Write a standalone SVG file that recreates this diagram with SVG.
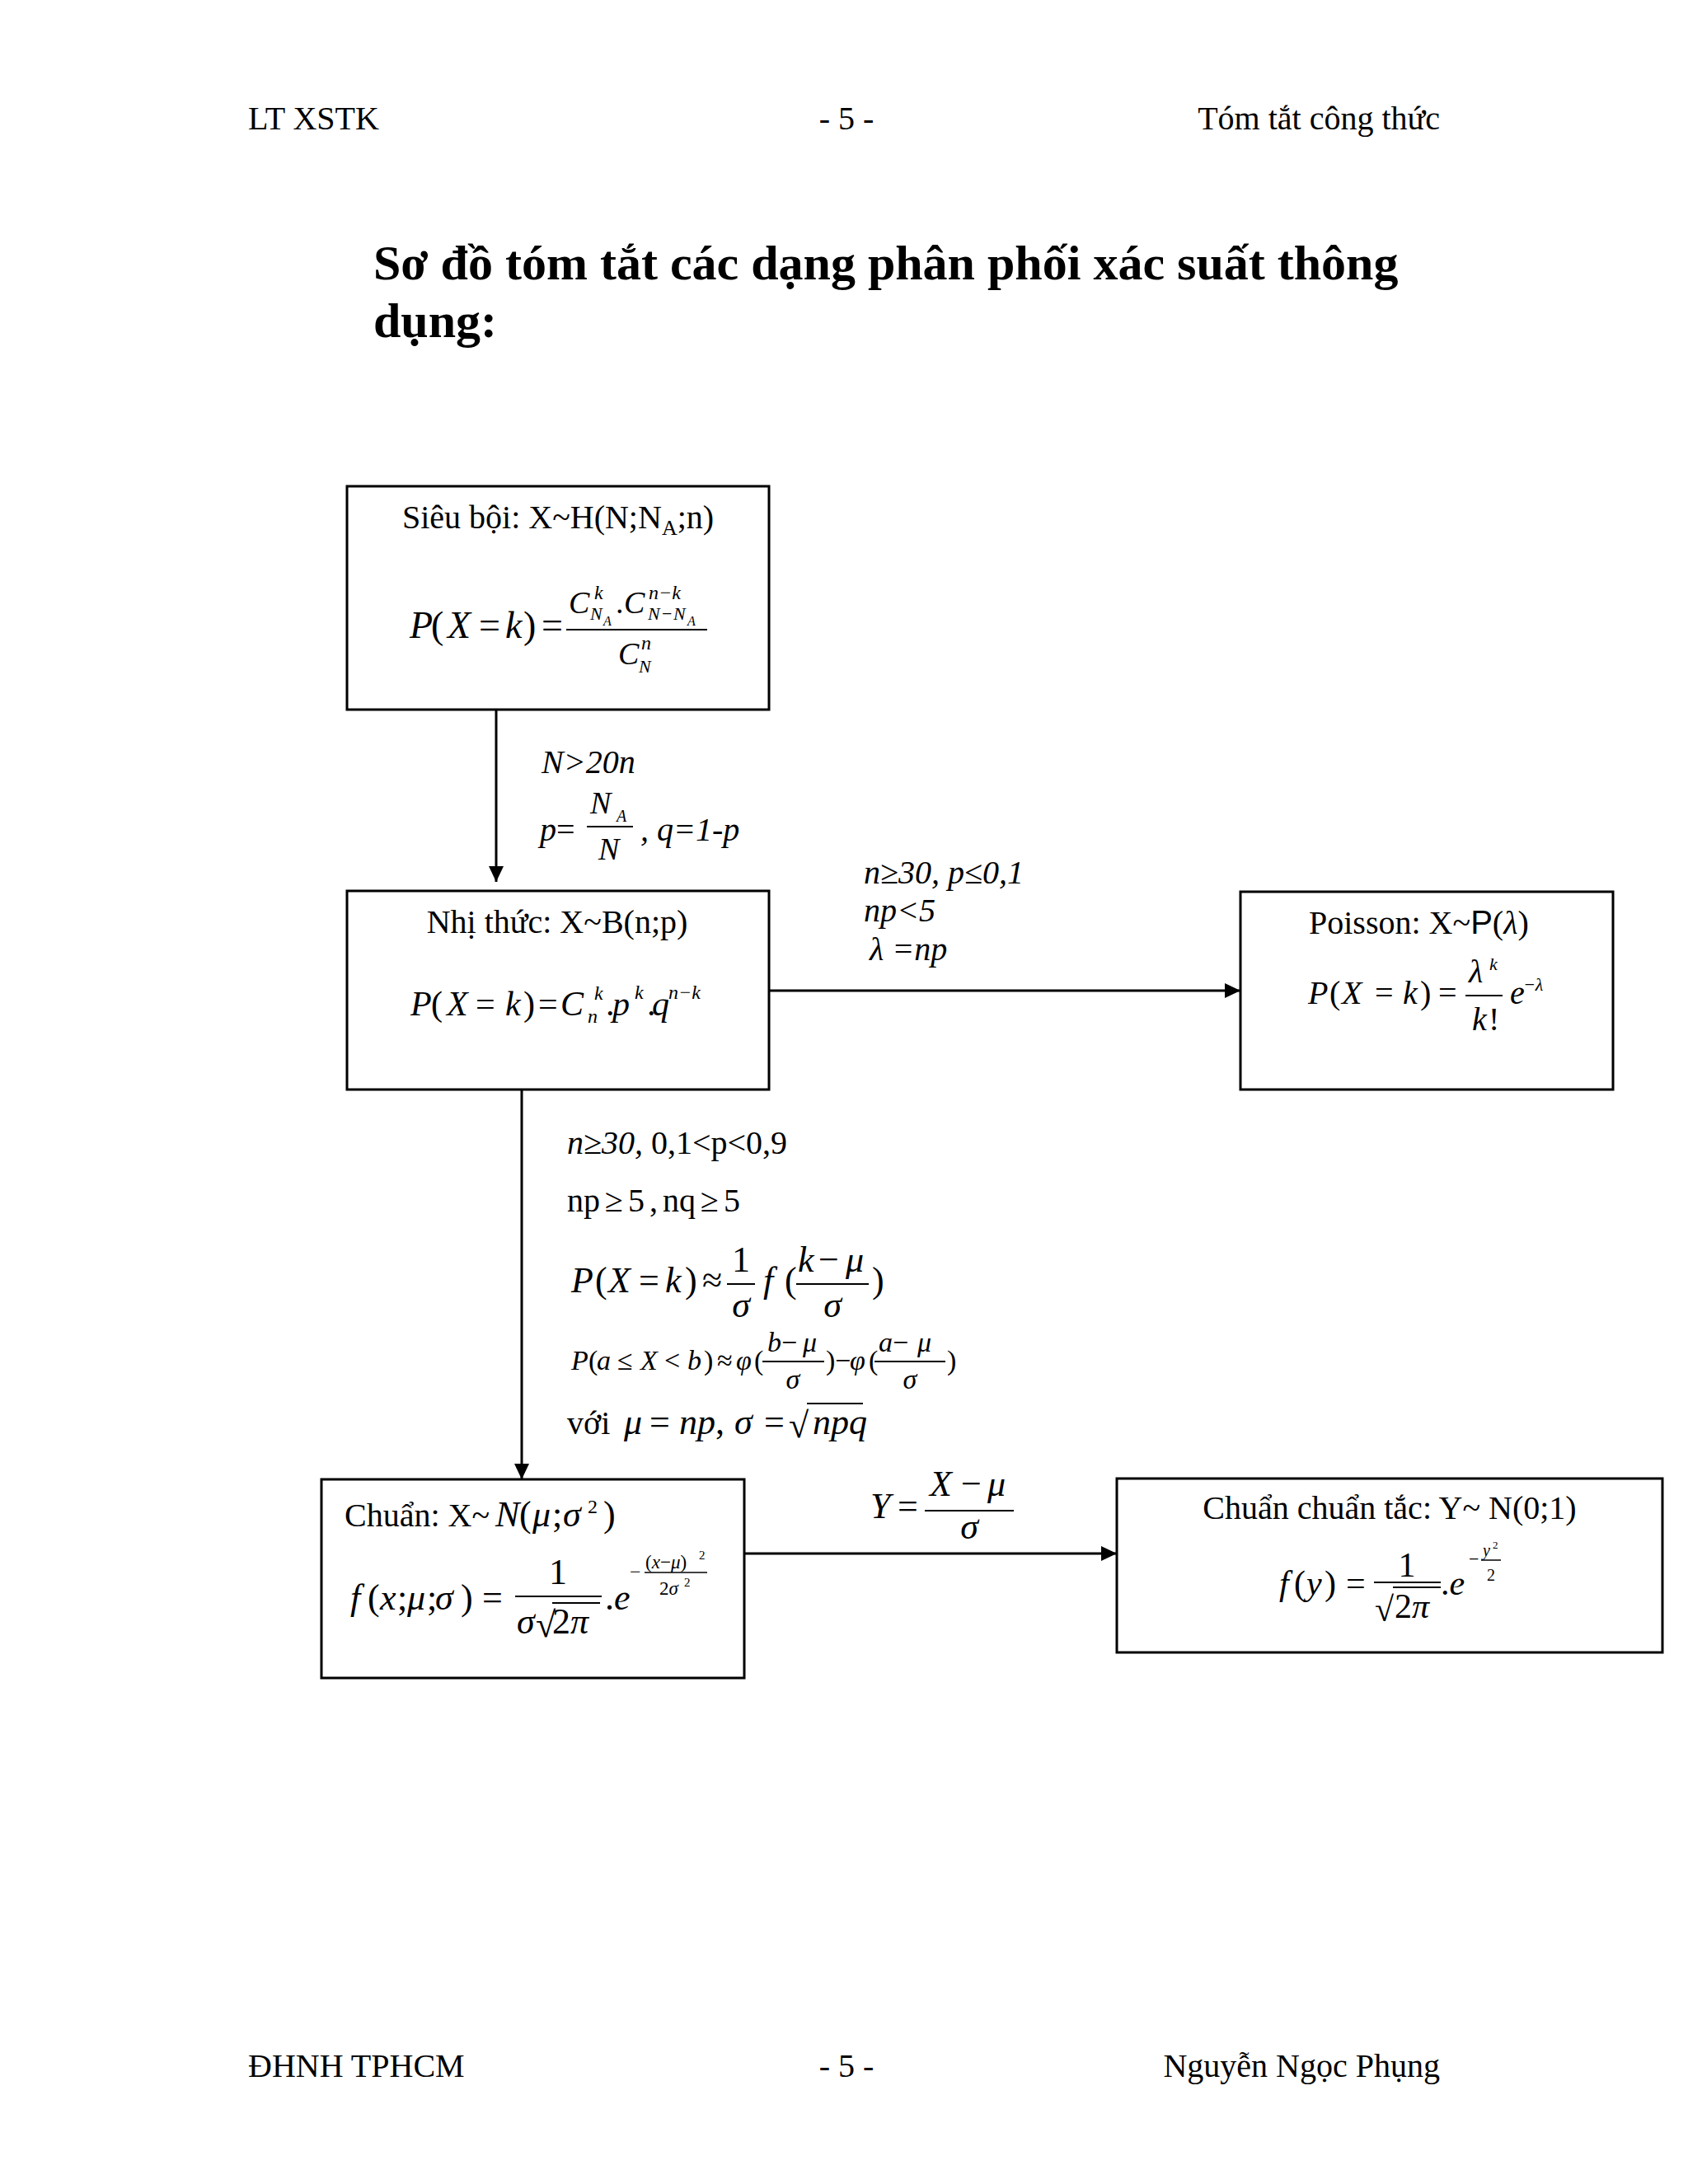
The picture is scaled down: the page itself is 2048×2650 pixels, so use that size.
<svg xmlns="http://www.w3.org/2000/svg" width="2048" height="2650" viewBox="0 0 2048 2650">
<defs>
<style>
text{font-family:"Liberation Serif","DejaVu Serif",serif;fill:#000}
.t{font-size:40px}
.ti{font-size:60px;font-weight:bold}
.i{font-style:italic}
.m{font-size:44px}
.s{font-size:24px}
.box{fill:#fff;stroke:#000;stroke-width:3}
.bar{stroke:#000;stroke-width:2}
.conn{stroke:#000;stroke-width:3;fill:none}
</style>
<marker id="ah" markerUnits="userSpaceOnUse" markerWidth="20" markerHeight="20" refX="19" refY="9" orient="auto">
<path d="M0,0 L19,9 L0,18 Z" fill="#000"/>
</marker>
</defs>
<rect width="2048" height="2650" fill="#fff"/>

<g id="header">
<text class="t" x="301" y="157">LT XSTK</text>
<text class="t" x="1027" y="157" text-anchor="middle">- 5 -</text>
<text class="t" x="1747" y="157" text-anchor="end">Tóm tắt công thức</text>
</g>
<g id="title">
<text class="ti" x="453" y="339">Sơ đồ tóm tắt các dạng phân phối xác suất thông</text>
<text class="ti" x="453" y="409">dụng:</text>
</g>

<g id="connectors">
<line class="conn" x1="602" y1="860" x2="602" y2="1070" marker-end="url(#ah)"/>
<line class="conn" x1="933" y1="1202" x2="1505" y2="1202" marker-end="url(#ah)"/>
<line class="conn" x1="633" y1="1322" x2="633" y2="1795" marker-end="url(#ah)"/>
<line class="conn" x1="903" y1="1885" x2="1355" y2="1885" marker-end="url(#ah)"/>
</g>

<g id="label-hyper-binom">
<text class="t i" x="657" y="938">N&gt;20n</text>
<text class="t i" x="655" y="1020">p<tspan font-style="normal">=</tspan></text>
<line class="bar" x1="712" y1="1003" x2="768" y2="1003"/>
<text class="i" font-size="38" x="716" y="987">N</text>
<text class="i" font-size="20" x="748" y="997">A</text>
<text class="i" font-size="38" x="726" y="1043">N</text>
<text class="t i" x="777" y="1020">, q=1-p</text>
</g>

<g id="label-binom-poisson">
<text class="t i" x="1048" y="1072">n≥30, p≤0,1</text>
<text class="t i" x="1048" y="1118">np&lt;5</text>
<text class="t i" x="1055" y="1165">λ =np</text>
</g>

<g id="label-binom-normal">
<text class="t" font-size="38" x="688" y="1400"><tspan font-style="italic">n≥30,</tspan> 0,1&lt;p&lt;0,9</text>
<text class="t" font-size="38" x="688" y="1470" word-spacing="-4">np ≥ 5 , nq ≥ 5</text>
<text class="m i" x="693" y="1568">P</text>
<text class="m" x="722" y="1568">(</text>
<text class="m i" x="738" y="1568">X</text>
<text class="m" x="775" y="1568">=</text>
<text class="m i" x="807" y="1568">k</text>
<text class="m" x="831" y="1568">)</text>
<text class="m" x="852" y="1568">≈</text>
<line class="bar" x1="882" y1="1558" x2="916" y2="1558"/>
<text class="m" x="899" y="1543" text-anchor="middle">1</text>
<text class="m i" x="899" y="1598" text-anchor="middle">σ</text>
<text class="m i" x="926" y="1568">f</text>
<text class="m" x="952" y="1568">(</text>
<line class="bar" x1="966" y1="1558" x2="1054" y2="1558"/>
<text class="m i" x="968" y="1543">k</text>
<text class="m" x="993" y="1543">−</text>
<text class="m i" x="1026" y="1543">μ</text>
<text class="m i" x="1010" y="1598" text-anchor="middle">σ</text>
<text class="m" x="1058" y="1568">)</text>
<g font-size="34">
<text class="i" x="693" y="1662">P</text>
<text x="714" y="1662">(</text>
<text class="i" x="724" y="1662">a</text>
<text x="749" y="1662">≤</text>
<text class="i" x="777" y="1662">X</text>
<text x="806" y="1662">&lt;</text>
<text class="i" x="834" y="1662">b</text>
<text x="854" y="1662">)</text>
<text x="870" y="1662">≈</text>
<text class="i" x="893" y="1662">φ</text>
<text x="915" y="1662">(</text>
<line class="bar" x1="925" y1="1652" x2="1000" y2="1652"/>
<text class="i" x="931" y="1640">b</text>
<text x="948" y="1640">−</text>
<text class="i" x="974" y="1640">μ</text>
<text class="i" x="962" y="1685" text-anchor="middle">σ</text>
<text x="1002" y="1662">)</text>
<text x="1013" y="1662">−</text>
<text class="i" x="1031" y="1662">φ</text>
<text x="1054" y="1662">(</text>
<line class="bar" x1="1061" y1="1652" x2="1147" y2="1652"/>
<text class="i" x="1066" y="1640">a</text>
<text x="1083" y="1640">−</text>
<text class="i" x="1113" y="1640">μ</text>
<text class="i" x="1104" y="1685" text-anchor="middle">σ</text>
<text x="1149" y="1662">)</text>
</g>
<text class="t" font-size="38" x="688" y="1740">với</text>
<text class="m i" x="757" y="1740">μ</text>
<text class="m" x="788" y="1740">=</text>
<text class="m i" x="824" y="1740">np</text>
<text class="m" x="868" y="1740">,</text>
<text class="m i" x="891" y="1740">σ</text>
<text class="m" x="927" y="1740">=</text>
<text class="m" x="957" y="1744">√</text>
<line class="bar" x1="979" y1="1703" x2="1047" y2="1703"/>
<text class="m i" x="986" y="1740">npq</text>
</g>

<g id="label-normal-standard">
<text class="m i" x="1056" y="1842">Y</text>
<text class="m" x="1089" y="1842">=</text>
<line class="bar" x1="1122" y1="1833" x2="1230" y2="1833"/>
<text class="m i" x="1128" y="1815">X</text>
<text class="m" x="1166" y="1815">−</text>
<text class="m i" x="1198" y="1815">μ</text>
<text class="m i" x="1176" y="1867" text-anchor="middle">σ</text>
</g>

<g id="node-sieu-boi">
<rect class="box" x="421" y="590" width="512" height="271"/>
<text class="t" x="677" y="641" text-anchor="middle">Siêu bội: X~H(N;N<tspan font-size="26" dy="8">A</tspan><tspan dy="-8">;n)</tspan></text>
<text font-size="46" class="i" x="497" y="774">P</text>
<text font-size="46" x="523" y="774">(</text>
<text font-size="46" class="i" x="543" y="774">X</text>
<text font-size="46" x="581" y="774">=</text>
<text font-size="46" class="i" x="613" y="774">k</text>
<text font-size="46" x="635" y="774">)</text>
<text font-size="46" x="657" y="774">=</text>
<line class="bar" x1="687" y1="764" x2="858" y2="764"/>
<text font-size="38" class="i" x="690" y="744">C</text>
<text class="s i" x="721" y="727">k</text>
<text class="i" font-size="22" x="716" y="752">N</text>
<text class="i" font-size="16" x="732" y="759">A</text>
<text font-size="38" x="747" y="744">.</text>
<text font-size="38" class="i" x="757" y="744">C</text>
<text class="s i" x="787" y="727">n−k</text>
<text class="i" font-size="22" x="786" y="752">N</text>
<text font-size="22" x="803" y="752">−</text>
<text class="i" font-size="22" x="817" y="752">N</text>
<text class="i" font-size="16" x="834" y="759">A</text>
<text font-size="38" class="i" x="750" y="806">C</text>
<text class="s i" x="778" y="788">n</text>
<text class="i" font-size="22" x="775" y="816">N</text>
</g>

<g id="node-nhi-thuc">
<rect class="box" x="421" y="1081" width="512" height="241"/>
<text class="t" x="676" y="1132" text-anchor="middle">Nhị thức: X~B(n;p)</text>
<g font-size="42">
<text class="i" x="498" y="1232">P</text>
<text x="523" y="1232">(</text>
<text class="i" x="542" y="1232">X</text>
<text x="577" y="1232">=</text>
<text class="i" x="613" y="1232">k</text>
<text x="635" y="1232">)</text>
<text x="653" y="1232">=</text>
<text class="i" x="680" y="1232">C</text>
<text x="735" y="1232">.</text>
<text class="i" x="743" y="1232">p</text>
<text x="785" y="1232">.</text>
<text class="i" x="791" y="1232">q</text>
</g>
<text class="s i" x="721" y="1213">k</text>
<text class="s i" x="713" y="1241">n</text>
<text class="s i" x="770" y="1212">k</text>
<text class="s i" x="811" y="1212">n−k</text>
</g>

<g id="node-poisson">
<rect class="box" x="1505" y="1082" width="452" height="240"/>
<text class="t" x="1588" y="1133">Poisson: X~<tspan font-family="Liberation Sans, Arial, sans-serif">P</tspan>(<tspan font-style="italic">λ</tspan>)</text>
<g font-size="40">
<text class="i" x="1587" y="1218">P</text>
<text x="1613" y="1218">(</text>
<text class="i" x="1628" y="1218">X</text>
<text x="1668" y="1218">=</text>
<text class="i" x="1702" y="1218">k</text>
<text x="1723" y="1218">)</text>
<text x="1745" y="1218">=</text>
<text class="i" x="1782" y="1192">λ</text>
<text class="i" x="1786" y="1250">k</text>
<text x="1806" y="1250">!</text>
<text class="i" x="1832" y="1218">e</text>
</g>
<line class="bar" x1="1778" y1="1208" x2="1823" y2="1208"/>
<text class="i" font-size="22" x="1807" y="1177">k</text>
<text class="i" font-size="22" x="1848" y="1202">−λ</text>
</g>

<g id="node-chuan">
<rect class="box" x="390" y="1795" width="513" height="241"/>
<text class="t" x="418" y="1852">Chuẩn: X~</text>
<text font-size="44" class="i" x="601" y="1852">N</text>
<text font-size="44" x="630" y="1852">(</text>
<text font-size="44" class="i" x="646" y="1852">μ</text>
<text font-size="44" x="670" y="1852">;</text>
<text font-size="44" class="i" x="683" y="1852">σ</text>
<text font-size="24" x="713" y="1836">2</text>
<text font-size="44" x="732" y="1852">)</text>
<text class="m i" x="425" y="1953">f</text>
<text class="m" x="446" y="1953">(</text>
<text class="m i" x="461" y="1953">x</text>
<text class="m" x="482" y="1953">;</text>
<text class="m i" x="494" y="1953">μ</text>
<text class="m" x="518" y="1953">;</text>
<text class="m i" x="528" y="1953">σ</text>
<text class="m" x="559" y="1953">)</text>
<text class="m" x="585" y="1953">=</text>
<line class="bar" x1="625" y1="1937" x2="730" y2="1937"/>
<text class="m" x="677" y="1922" text-anchor="middle">1</text>
<text class="m i" x="627" y="1982">σ</text>
<text class="m" x="650" y="1986">√</text>
<line class="bar" x1="670" y1="1945" x2="728" y2="1945"/>
<text class="m" x="670" y="1982">2<tspan font-style="italic">π</tspan></text>
<text class="m" x="734" y="1953">.<tspan font-style="italic">e</tspan></text>
<text font-size="24" x="764" y="1915">−</text>
<line x1="782" y1="1908" x2="858" y2="1908" stroke="#000" stroke-width="1.5"/>
<text font-size="23" x="783" y="1903">(<tspan font-style="italic">x</tspan>−<tspan font-style="italic">μ</tspan>)</text>
<text font-size="15" x="848" y="1892">2</text>
<text font-size="23" x="800" y="1935">2<tspan font-style="italic">σ</tspan></text>
<text font-size="15" x="830" y="1925">2</text>
</g>

<g id="node-chuan-chuan-tac">
<rect class="box" x="1355" y="1794" width="662" height="211"/>
<text class="t" x="1686" y="1843" text-anchor="middle">Chuẩn chuẩn tắc: Y~ N(0;1)</text>
<g font-size="42">
<text class="i" x="1552" y="1935">f</text>
<text x="1570" y="1935">(</text>
<text class="i" x="1585" y="1935">y</text>
<text x="1607" y="1935">)</text>
<text x="1633" y="1935">=</text>
<text x="1707" y="1913" text-anchor="middle">1</text>
<text x="1668" y="1967">√</text>
<text x="1692" y="1963">2<tspan font-style="italic">π</tspan></text>
<text x="1748" y="1935">.<tspan font-style="italic">e</tspan></text>
</g>
<line class="bar" x1="1667" y1="1920" x2="1748" y2="1920"/>
<line class="bar" x1="1690" y1="1926" x2="1748" y2="1926"/>
<text font-size="22" x="1782" y="1899">−</text>
<line x1="1797" y1="1893" x2="1821" y2="1893" stroke="#000" stroke-width="1.5"/>
<text class="i" font-size="20" x="1799" y="1888">y</text>
<text font-size="13" x="1811" y="1879">2</text>
<text font-size="20" x="1804" y="1918">2</text>
</g>

<g id="footer">
<text class="t" x="301" y="2520">ĐHNH TPHCM</text>
<text class="t" x="1027" y="2520" text-anchor="middle">- 5 -</text>
<text class="t" x="1747" y="2520" text-anchor="end">Nguyễn Ngọc Phụng</text>
</g>
</svg>
